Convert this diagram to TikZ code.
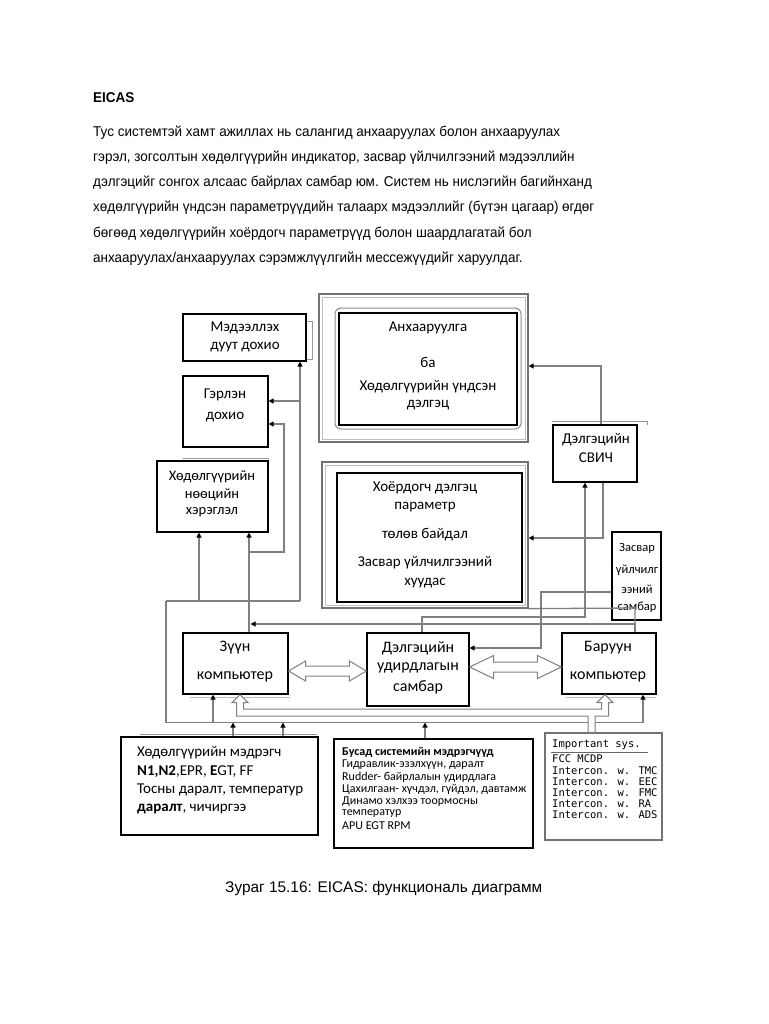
\documentclass[tikz,border=0pt]{standalone}
\usepackage{fontspec}
\setmainfont{Liberation Sans}
\newfontfamily\pfont[FakeStretch=0.95]{Liberation Sans}
\newfontfamily\dfont{Carlito}
\newfontfamily\mfont{DejaVu Sans Mono}
\usetikzlibrary{arrows.meta,calc}
\begin{document}
\begin{tikzpicture}[x=1pt,y=-1pt,
  box/.style={draw=black, line width=1.2pt, inner sep=0pt},
  frame/.style={draw=black!55, line width=1.3pt, inner sep=0pt},
  shadowline/.style={draw=black!40, line width=1pt},
  para/.style={anchor=base west, inner sep=0pt, font=\pfont\fontsize{14.2}{17}\selectfont},
  lbl/.style={inner sep=0pt, font=\dfont\fontsize{15}{18}\selectfont},
  lblz/.style={inner sep=0pt, font=\dfont\fontsize{12.5}{15}\selectfont},
  lblb/.style={inner sep=0pt, font=\dfont\fontsize{16}{19}\selectfont},
  lbls/.style={inner sep=0pt, font=\dfont\fontsize{14.5}{17}\selectfont},
  lsens/.style={anchor=west, inner sep=0pt, font=\dfont\fontsize{15}{18}\selectfont},
  loth/.style={anchor=west, inner sep=0pt, font=\dfont\fontsize{12}{14}\selectfont},
  limp/.style={anchor=west, inner sep=0pt, font=\mfont\fontsize{10.5}{12}\selectfont},
  conn/.style={draw=black!50, line width=1.3pt},
  arr/.style={-{Triangle[length=5pt,width=5pt,color=black]}},
  hollow/.style={draw=black!50, line width=1pt, fill=white, line join=miter}
]
\fill[white] (0,0) rectangle (768,1024);
\useasboundingbox (0,0) rectangle (768,1024);

% ---------- heading and paragraph ----------
\node[para, font=\pfont\bfseries\fontsize{14.2}{17}\selectfont] (title) at (93,102.5) {EICAS};
\node[para] (p1) at (93,137) {Тус системтэй хамт ажиллах нь салангид анхааруулах болон анхааруулах};
\node[para] (p2) at (93,162) {гэрэл, зогсолтын хөдөлгүүрийн индикатор, засвар үйлчилгээний мэдээллийн};
\node[para] (p3) at (93,187) {дэлгэцийг сонгох алсаас байрлах самбар юм. Систем нь нислэгийн багийнханд};
\node[para] (p4) at (93,212) {хөдөлгүүрийн үндсэн параметрүүдийн талаарх мэдээллийг (бүтэн цагаар) өгдөг};
\node[para] (p5) at (93,237) {бөгөөд хөдөлгүүрийн хоёрдогч параметрүүд болон шаардлагатай бол};
\node[para] (p6) at (93,262) {анхааруулах/анхааруулах сэрэмжлүүлгийн мессежүүдийг харуулдаг.};

% ---------- boxes ----------
\node[box, minimum width=123, minimum height=47] (mdd) at (244.5,337.5) {};
\node[box, minimum width=85, minimum height=71] (grl) at (225.5,411.5) {};
\node[box, minimum width=111, minimum height=71] (nts) at (212.5,496.5) {};

\node[frame, minimum width=209, minimum height=148] (d1o) at (423.5,368) {};
\node[draw=black!25, line width=0.8pt, inner sep=0pt, minimum width=203, minimum height=142] (d1m) at (423.5,368) {};
\node[draw=black!45, line width=1pt, rounded corners=6pt, inner sep=0pt, minimum width=186, minimum height=121] (d1r) at (428,368.5) {};
\node[box, minimum width=178, minimum height=112] (d1i) at (428,369) {};

\node[frame, minimum width=206, minimum height=146] (d2o) at (425,535) {};
\node[draw=black!25, line width=0.8pt, inner sep=0pt, minimum width=200, minimum height=140] (d2m) at (425,535) {};
\node[box, minimum width=185, minimum height=129] (d2i) at (429.5,537.5) {};

\node[box, minimum width=84, minimum height=57] (svich) at (595,453.5) {};
\node[box, minimum width=49, minimum height=88] (zsv) at (636.5,576) {};

\node[box, minimum width=105, minimum height=61] (zl) at (235.5,663.5) {};
\node[box, minimum width=102, minimum height=73] (dcp) at (418,669.5) {};
\node[box, minimum width=94, minimum height=61] (zr) at (609,663.5) {};

\node[box, minimum width=197, minimum height=98] (sens) at (219.5,786) {};
\node[box, minimum width=199, minimum height=109] (oth) at (433.5,793.5) {};
\node[draw=black!55, line width=1.2pt, inner sep=0pt, minimum width=117, minimum height=107] (imp) at (603.5,786.5) {};

% shadow / double lines of some boxes
\draw[shadowline] (mdd.east |- 0,321) -- (312,321) -- (312,359) -- (mdd.east |- 0,359);
\draw[shadowline] (183,458.5) -- (nts.north east |- 0,458.5);
\draw[shadowline] (svich.north west |- 0,421) -- (647,421) -- (647,425);
\draw[shadowline] (140,734.5) -- (317,734.5);
\draw[shadowline, draw=black!25] (190,697) -- (290,697);
\draw[shadowline, draw=black!25] (565,697) -- (656,697);

% ---------- labels ----------
\node[lbl] (t1) at (245,328) {Мэдээллэх};
\node[lbl] (t2) at (245,347) {дуут дохио};
\node[lbl] (t3) at (225,395) {Гэрлэн};
\node[lbl] (t4) at (225,417) {дохио};
\node[lbls] (t5) at (212,477) {Хөдөлгүүрийн};
\node[lbls] (t6) at (212,495) {нөөцийн};
\node[lbls] (t7) at (212,512) {хэрэглэл};

\node[lbl] (t8) at (428,328) {Анхааруулга};
\node[lbl] (t9) at (428,362) {ба};
\node[lbl] (t10) at (428,387) {Хөдөлгүүрийн үндсэн};
\node[lbl] (t11) at (428,405) {дэлгэц};

\node[lbl] (t12) at (425,488) {Хоёрдогч дэлгэц};
\node[lbl] (t13) at (425,507) {параметр};
\node[lbl] (t14) at (425,535) {төлөв байдал};
\node[lbl] (t15) at (425,563) {Засвар үйлчилгээний};
\node[lbl] (t16) at (425,583) {хуудас};

\node[lbl] (t17) at (596,440) {Дэлгэцийн};
\node[lbl] (t18) at (596,458) {СВИЧ};

\node[lblz] (t19) at (637,548) {Засвар};
\node[lblz] (t20) at (637,570) {үйлчилг};
\node[lblz] (t21) at (637,589) {ээний};
\node[lblz] (t22) at (637,607) {самбар};

\node[lblb] (t23) at (235,648) {Зүүн};
\node[lblb] (t24) at (235,677) {компьютер};
\node[lblb] (t25) at (418,648) {Дэлгэцийн};
\node[lblb] (t26) at (418,668) {удирдлагын};
\node[lblb] (t27) at (418,687) {самбар};
\node[lblb] (t28) at (608,648) {Баруун};
\node[lblb] (t29) at (608,677) {компьютер};

\node[lsens] (s1) at (137,753) {Хөдөлгүүрийн мэдрэгч};
\node[lsens] (s2) at (137,772) {\textbf{N1,N2},EPR, \textbf{E}GT, FF};
\node[lsens] (s3) at (137,790) {Тосны даралт, температур};
\node[lsens] (s4) at (137,809) {\textbf{даралт}, чичиргээ};

\node[loth, font=\dfont\bfseries\fontsize{12}{14}\selectfont] (o1) at (342,752.5) {Бусад системийн мэдрэгчүүд};
\node[loth] (o2) at (342,764.7) {Гидравлик-эзэлхүүн, даралт};
\node[loth] (o3) at (342,776.9) {Rudder- байрлалын удирдлага};
\node[loth] (o4) at (342,789.1) {Цахилгаан- хүчдэл, гүйдэл, давтамж};
\node[loth] (o5) at (342,801.3) {Динамо хэлхээ тоормосны};
\node[loth] (o6) at (342,813.5) {температур};
\node[loth] (o7) at (342,825.7) {APU EGT RPM};

\node[limp] (i1) at (552,745) {Important sys.};
\draw[black!60, line width=0.8pt] (551,752) -- (648,752);
\node[limp] (i2) at (552,759) {FCC MCDP};
\node[limp] (i3) at (552,770.5) {Intercon. w. TMC};
\node[limp] (i4) at (552,781.5) {Intercon. w. EEC};
\node[limp] (i5) at (552,792.5) {Intercon. w. FMC};
\node[limp] (i6) at (552,803.5) {Intercon. w. RA};
\node[limp] (i7) at (552,814.5) {Intercon. w. ADS};

% ---------- connectors ----------
\coordinate (busL) at (166,722.5);
\coordinate (busR) at (643,722.5);
\coordinate (lftop) at (166,601);
\draw[conn] (lftop) -- (busL) -- (busR);
\draw[conn, arr] (busR) -- (643,0 |- zr.south);
\draw[conn] (lftop) -- (300,601);
\draw[conn, arr] (300,601) -- (300,0 |- mdd.south);
\draw[conn, arr] (199,601) -- (199,0 |- nts.south);
\draw[conn, arr] (300,401) -- (grl.east |- 0,401);
\draw[conn, arr] (249,0 |- zl.north) -- (249,0 |- nts.south);
\draw[conn, arr] (249,552) -- (284,552) -- (284,424) -- (grl.east |- 0,424);
\draw[conn, arr] (635,0 |- zr.north) -- (635,624) -- (250.5,624);
\draw[conn] (635,624) -- (635,608) -- (d2o.south east);
\draw[conn, arr] (422,0 |- dcp.north) -- (422,617) -- (585,617) -- (585,0 |- svich.south);
\draw[conn, arr] (zsv.west |- 0,592) -- (541,592) -- (541,648) -- (dcp.east |- 0,648);
\draw[conn, arr] (601,0 |- svich.north) -- (601,366) -- (d1o.east |- 0,366);
\draw[conn, arr] (603,0 |- svich.south) -- (603,538) -- (d2o.east |- 0,538);
\draw[conn, arr] (213,0 |- busL) -- (213,0 |- zl.south);
\draw[conn, arr] (233,0 |- sens.north) -- (233,0 |- busL);
\draw[conn, arr] (283,0 |- sens.north) -- (283,0 |- busL);
\draw[conn, arr] (425,0 |- oth.north) -- (425,0 |- busL);

% hollow double arrows between computers and display control panel
\draw[hollow] (zl.east |- 0,671) -- ++(17,-10) -- ++(0,5) -- ($(dcp.west |- 0,671)+(-17,-5)$) -- ++(0,-5) -- (dcp.west |- 0,671) -- ++(-17,10) -- ++(0,-5) -- ($(zl.east |- 0,671)+(17,5)$) -- ++(0,5) -- cycle;
\draw[hollow] (dcp.east |- 0,667) -- ++(24,-11.5) -- ++(0,6.5) -- ($(zr.west |- 0,667)+(-24,-5)$) -- ++(0,-6.5) -- (zr.west |- 0,667) -- ++(-24,11.5) -- ++(0,-6.5) -- ($(dcp.east |- 0,667)+(24,5)$) -- ++(0,6.5) -- cycle;

% hollow feed from important systems to both computers
\coordinate (hA) at (240,0 |- zl.south);
\coordinate (hB) at (605,0 |- zr.south);
\draw[hollow] (hA) -- ++(-8,8) -- ++(4.5,0) -- (236.5,716) -- (588,716) -- (588,0 |- imp.north) -- (595,0 |- imp.north) -- (595,716) -- (608.5,716) -- ($(hB)+(3.5,8)$) -- ++(4.5,0) -- (hB) -- ++(-8,8) -- ++(4.5,0) -- (601.5,709) -- (243.5,709) -- ($(hA)+(3.5,8)$) -- ++(4.5,0) -- cycle;

% ---------- caption ----------
\node[anchor=base west, inner sep=0pt, font=\fontsize{15.4}{18}\selectfont] (cap) at (225,892) {Зураг 15.16: EICAS: функциональ диаграмм};
\end{tikzpicture}
\end{document}
